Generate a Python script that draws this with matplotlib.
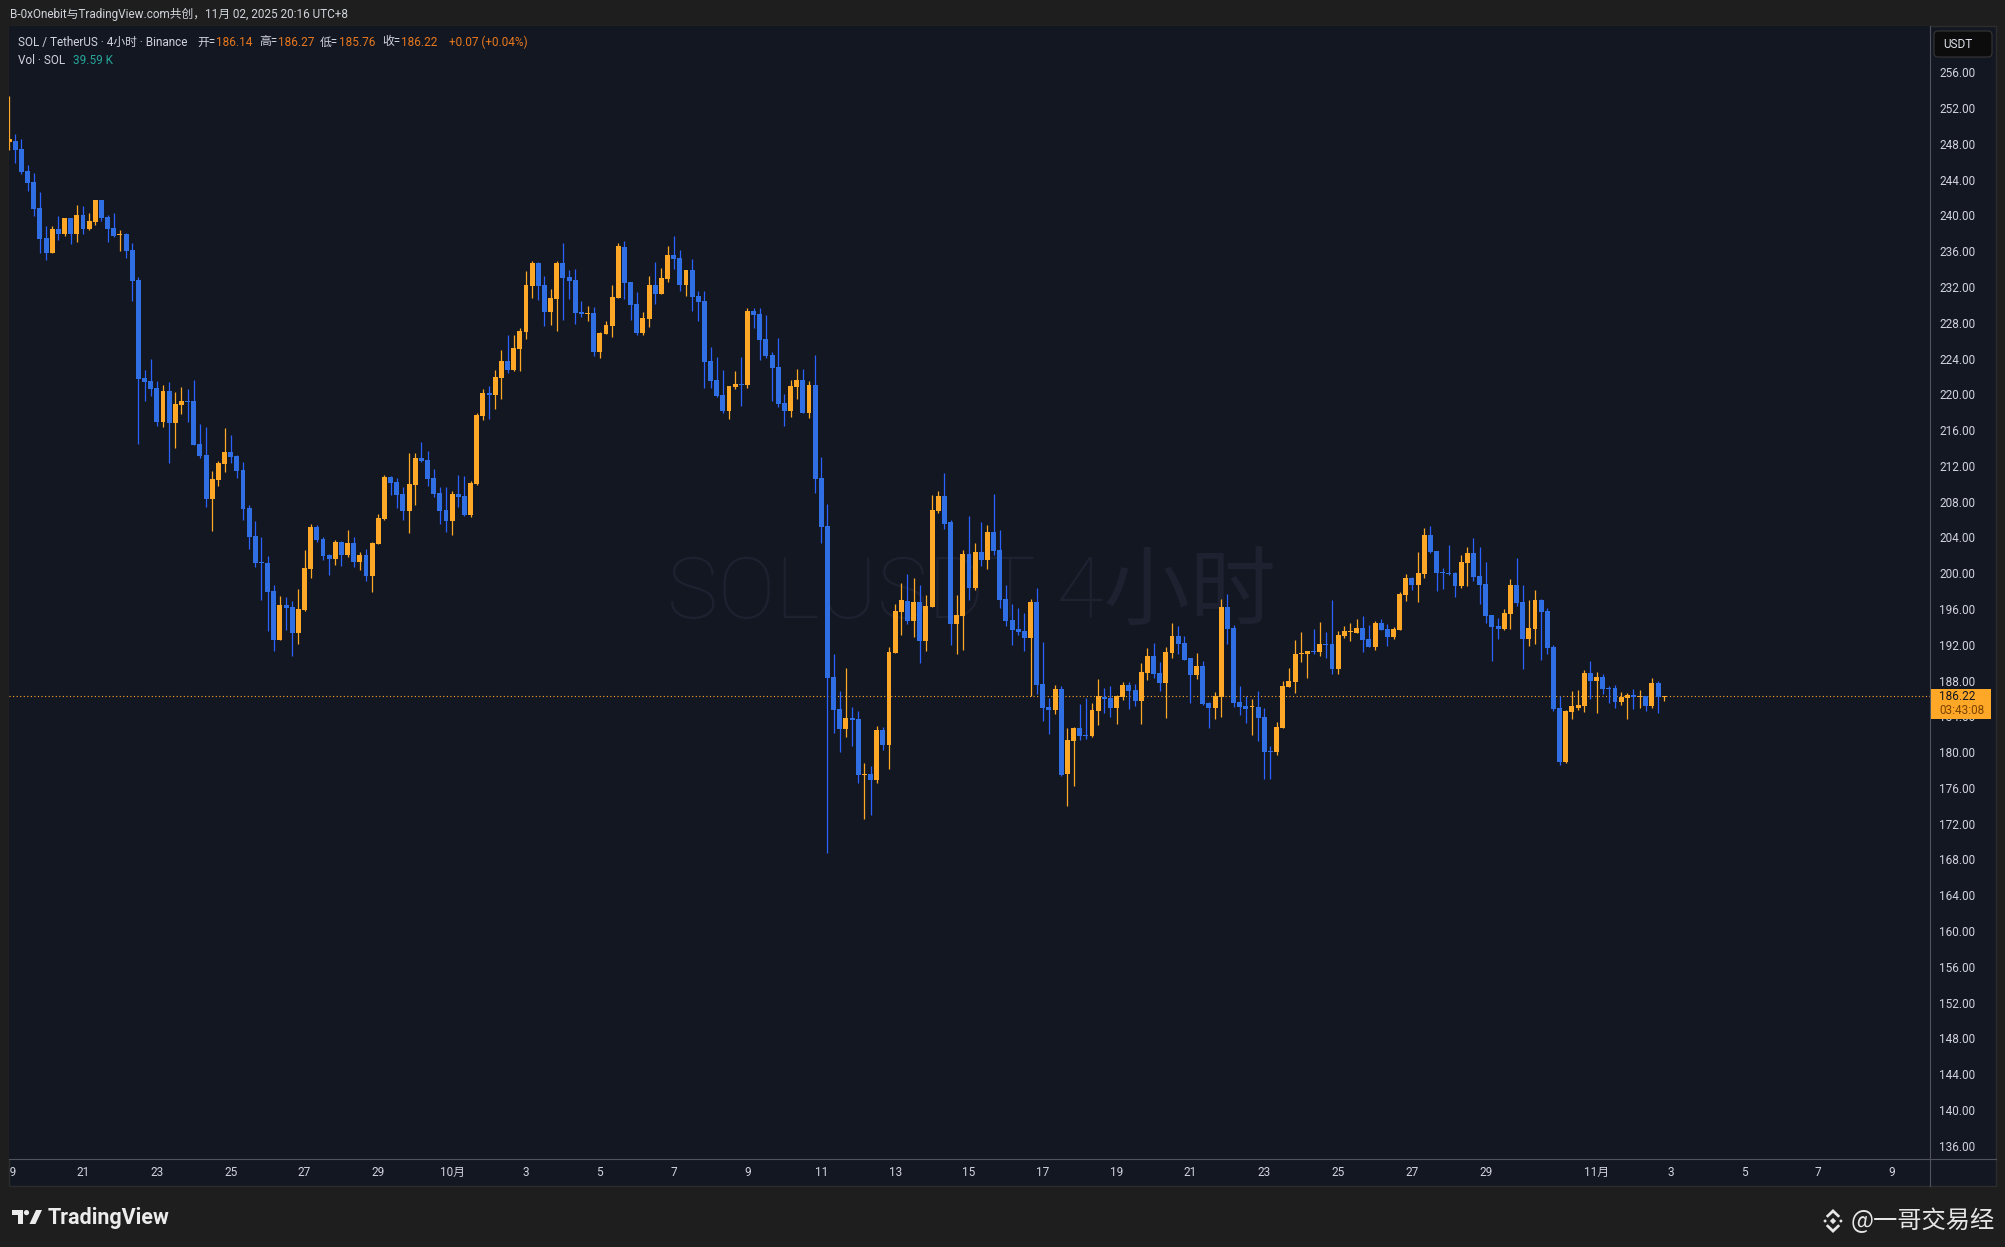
import numpy as np
import pandas as pd
import matplotlib
matplotlib.use("Agg")
import matplotlib.pyplot as plt
import matplotlib.transforms as mtransforms
from matplotlib.patches import Rectangle, FancyBboxPatch, Polygon, Circle
from matplotlib.lines import Line2D

plt.rcParams['font.family'] = ['Roboto', 'Noto Sans CJK SC', 'DejaVu Sans']

# ---------------- data ----------------
bar_start = '2025-09-19 00:00'   # 4h bars, UTC+8
opens = [248.2, 248.31, 247.43, 244.95, 243.72, 240.84, 237.49, 235.85, 238.49, 237.93,
         239.72, 237.93, 240.04, 238.49, 239.24, 241.72, 239.80, 238.60, 237.85, 237.93,
         236.13, 232.78, 221.83, 221.47, 220.72, 216.88, 220.36, 216.80, 218.80, 219.20,
         219.24, 214.45, 213.21, 208.30, 210.41, 212.21, 213.53, 213.09, 211.53, 207.30,
         204.15, 201.19, 201.15, 198.00, 192.53, 196.44, 196.20, 193.32, 195.88, 200.47,
         205.14, 203.83, 202.03, 201.59, 203.47, 202.03, 203.39, 201.23, 202.03, 199.67,
         203.27, 206.06, 210.73, 210.17, 208.86, 206.94, 209.86, 212.89, 212.65, 210.65,
         208.98, 207.06, 205.88, 208.86, 208.63, 206.51, 209.98, 217.62, 220.15, 219.93,
         221.83, 223.73, 222.72, 225.07, 226.97, 232.11, 234.68, 232.22, 229.20, 230.66,
         234.68, 233.12, 232.78, 229.20, 229.02, 229.09, 224.73, 226.75, 227.64, 230.77,
         236.47, 232.56, 230.10, 226.86, 228.42, 232.22, 231.22, 232.89, 235.58, 235.24,
         232.22, 233.90, 230.99, 230.43, 223.73, 221.60, 219.93, 218.14, 220.82, 221.16,
         221.04, 229.32, 228.98, 226.19, 224.40, 223.06, 219.03, 218.14, 220.82, 221.60,
         217.91, 221.04, 210.65, 205.28, 188.40, 184.82, 182.58, 183.81, 183.70, 177.44,
         177.55, 176.88, 182.47, 180.79, 191.08, 195.66, 196.89, 194.66, 196.78, 192.42,
         196.22, 206.95, 208.63, 205.72, 194.32, 195.21, 202.15, 198.35, 202.37, 201.47,
         204.61, 202.59, 197.11, 194.77, 193.76, 193.54, 192.75, 196.78, 187.61, 185.04,
         184.71, 187.05, 177.55, 181.24, 182.69, 181.91, 181.80, 184.59, 186.16, 186.05,
         184.93, 186.16, 187.50, 186.94, 185.71, 188.84, 190.74, 188.84, 187.72, 191.08,
         192.98, 192.20, 190.52, 188.62, 189.63, 185.50, 184.94, 186.17, 196.23, 193.88,
         185.61, 185.16, 185.02, 185.05, 183.93, 180.13, 180.02, 182.70, 187.28, 187.84,
         191.01, 190.97, 191.31, 191.20, 192.09, 192.09, 189.30, 192.99, 193.47, 193.32,
         193.88, 192.65, 191.76, 194.44, 193.77, 192.87, 193.66, 197.57, 199.47, 198.69,
         199.92, 204.28, 202.49, 200.14, 200.03, 200.03, 198.58, 201.15, 202.27, 199.69,
         198.80, 195.33, 194.11, 193.77, 195.45, 198.69, 196.79, 192.65, 193.77, 197.01,
         195.78, 191.76, 184.94, 178.90, 184.49, 184.94, 185.16, 188.85, 187.95, 188.40,
         187.17, 187.17, 185.61, 186.05, 186.39, 186.17, 186.28, 185.16, 187.73, 186.14]
highs = [253.3, 249.11, 248.55, 245.63, 244.75, 242.60, 238.80, 238.80, 239.92, 239.72,
         239.72, 241.16, 241.04, 240.28, 241.72, 241.72, 240.04, 240.28, 238.37, 238.05,
         236.93, 233.10, 222.71, 223.95, 221.47, 221.04, 221.36, 220.24, 220.80, 220.60,
         221.59, 216.68, 216.32, 211.41, 212.53, 216.24, 215.45, 213.21, 212.41, 207.62,
         205.82, 204.03, 201.91, 198.67, 197.44, 197.32, 196.88, 198.24, 202.59, 205.50,
         205.38, 204.03, 202.15, 203.71, 203.59, 204.83, 204.03, 202.35, 202.71, 203.47,
         206.62, 210.97, 210.85, 210.65, 209.62, 213.45, 213.45, 214.65, 213.65, 211.65,
         209.62, 209.62, 209.23, 210.98, 210.87, 210.31, 217.95, 220.60, 220.93, 222.72,
         224.96, 226.63, 226.63, 227.42, 233.79, 234.91, 234.79, 233.23, 231.78, 234.91,
         236.92, 233.90, 234.01, 230.43, 229.88, 229.76, 226.97, 228.20, 232.22, 236.92,
         237.14, 232.56, 231.44, 229.20, 233.23, 234.79, 234.12, 236.58, 237.70, 236.14,
         233.90, 235.13, 231.55, 231.55, 225.29, 224.17, 222.72, 220.93, 222.61, 224.17,
         229.65, 229.65, 229.65, 228.87, 224.73, 226.30, 220.04, 221.60, 222.83, 222.83,
         221.49, 224.40, 212.99, 207.74, 190.97, 186.83, 189.40, 185.04, 184.59, 178.78,
         178.45, 182.92, 182.81, 191.75, 196.56, 198.90, 199.91, 199.46, 198.68, 197.56,
         208.74, 209.19, 211.20, 205.95, 197.56, 202.59, 206.39, 203.38, 205.72, 205.39,
         208.85, 204.83, 198.68, 196.56, 196.11, 195.55, 197.11, 198.35, 192.31, 186.05,
         187.50, 187.39, 182.69, 182.81, 185.38, 186.05, 185.49, 188.17, 187.17, 187.39,
         186.38, 187.83, 187.83, 187.61, 189.96, 191.64, 192.20, 190.07, 191.75, 194.43,
         194.10, 192.98, 190.52, 191.08, 190.19, 185.61, 186.73, 197.12, 197.68, 194.22,
         187.40, 186.28, 185.94, 186.84, 184.94, 180.69, 183.37, 187.95, 189.41, 192.54,
         193.43, 191.31, 193.77, 194.55, 193.43, 197.01, 193.55, 194.10, 194.44, 194.89,
         195.22, 194.22, 194.66, 194.89, 194.33, 194.00, 197.90, 199.92, 199.58, 202.38,
         205.06, 205.28, 202.49, 200.59, 203.16, 200.14, 202.04, 202.94, 203.94, 202.94,
         201.26, 195.33, 195.00, 196.00, 199.36, 201.71, 198.69, 197.01, 198.13, 197.12,
         196.12, 191.98, 186.28, 184.71, 186.84, 186.95, 189.19, 190.19, 188.96, 188.74,
         187.40, 187.51, 186.73, 186.61, 187.06, 186.95, 186.28, 188.29, 187.95, 186.27]
lows = [247.3, 245.91, 244.63, 242.72, 239.92, 235.81, 235.05, 235.85, 237.25, 237.69,
        236.81, 237.01, 237.93, 238.37, 238.92, 239.36, 237.01, 237.57, 236.01, 235.25,
        230.42, 214.45, 219.24, 219.80, 216.44, 216.32, 212.33, 214.01, 217.80, 216.88,
        214.33, 212.89, 207.38, 204.70, 209.74, 211.29, 212.33, 210.65, 205.94, 202.71,
        200.67, 196.99, 193.52, 191.29, 192.53, 193.64, 190.73, 192.09, 195.76, 199.47,
        203.47, 201.47, 199.79, 200.91, 200.79, 201.79, 200.67, 200.35, 199.11, 197.88,
        203.27, 205.94, 208.74, 207.30, 205.94, 204.50, 207.62, 212.41, 209.74, 208.50,
        205.50, 204.59, 204.27, 207.44, 206.40, 206.29, 209.87, 217.13, 217.24, 218.36,
        219.48, 222.39, 222.61, 222.61, 226.19, 230.77, 230.55, 227.64, 227.75, 227.08,
        228.31, 230.66, 227.86, 228.65, 228.20, 224.29, 224.06, 226.75, 226.41, 230.77,
        230.66, 228.31, 226.63, 226.63, 227.53, 230.10, 231.22, 232.56, 234.01, 231.55,
        230.99, 229.32, 228.20, 220.71, 220.71, 219.70, 217.91, 217.24, 220.60, 218.70,
        220.71, 227.42, 223.84, 224.06, 219.25, 218.58, 216.46, 217.47, 219.48, 217.91,
        217.35, 208.97, 203.38, 168.72, 182.14, 180.01, 181.69, 180.68, 176.55, 172.52,
        172.97, 176.55, 180.23, 178.11, 191.08, 193.09, 194.32, 192.87, 189.96, 191.30,
        196.22, 206.73, 204.94, 191.97, 190.97, 191.41, 197.00, 198.12, 200.80, 200.47,
        202.03, 196.11, 194.10, 191.97, 193.09, 191.30, 186.27, 186.49, 183.48, 182.02,
        184.26, 177.33, 173.97, 176.21, 181.35, 181.46, 181.69, 183.03, 184.37, 183.92,
        183.14, 185.82, 184.82, 185.15, 183.14, 188.06, 188.29, 186.83, 183.81, 190.52,
        190.97, 190.30, 185.49, 188.17, 185.27, 182.70, 183.71, 183.93, 192.09, 185.05,
        184.15, 183.26, 181.92, 181.25, 177.00, 177.00, 179.68, 182.70, 187.28, 186.61,
        190.08, 188.29, 190.97, 190.75, 190.53, 188.74, 188.74, 192.76, 192.43, 193.32,
        191.20, 191.76, 191.42, 193.66, 191.87, 192.65, 193.66, 196.90, 198.13, 196.79,
        199.47, 202.27, 198.02, 198.24, 199.81, 197.35, 198.35, 198.58, 199.13, 196.56,
        194.44, 190.19, 192.65, 193.66, 193.77, 196.34, 189.30, 191.87, 192.09, 190.30,
        190.97, 184.60, 178.56, 178.79, 183.71, 184.71, 184.49, 185.94, 184.38, 186.50,
        185.50, 184.94, 185.27, 183.71, 184.83, 184.94, 184.60, 184.94, 184.38, 185.76]
closes = [248.5, 247.31, 244.83, 243.68, 240.76, 237.41, 235.85, 238.49, 237.93, 239.72,
          237.93, 240.04, 238.49, 239.36, 241.72, 239.72, 238.49, 237.69, 237.95, 236.01,
          232.66, 221.71, 221.36, 220.60, 216.88, 220.36, 216.80, 218.92, 219.24, 219.12,
          214.33, 213.09, 208.30, 210.53, 212.33, 213.53, 212.97, 211.41, 207.18, 204.03,
          201.15, 201.11, 197.88, 192.53, 196.44, 196.12, 193.32, 196.00, 200.59, 205.14,
          203.71, 201.91, 201.59, 203.47, 202.03, 203.39, 201.23, 202.03, 199.67, 203.39,
          206.18, 210.73, 210.09, 208.74, 206.94, 209.98, 212.89, 212.53, 210.53, 208.86,
          206.94, 205.82, 208.86, 208.56, 206.51, 210.09, 217.69, 220.15, 219.93, 221.94,
          223.73, 222.72, 225.18, 227.08, 232.22, 234.68, 232.11, 229.20, 230.77, 234.68,
          233.01, 232.67, 229.09, 228.98, 229.10, 224.73, 226.86, 227.75, 230.88, 236.58,
          232.45, 229.99, 226.86, 228.53, 232.22, 231.22, 233.01, 235.58, 235.13, 232.22,
          233.90, 230.88, 230.32, 223.62, 221.49, 219.81, 218.14, 220.93, 221.16, 221.08,
          229.32, 228.87, 226.07, 224.29, 222.94, 218.92, 218.14, 220.93, 221.60, 217.91,
          221.04, 210.53, 205.17, 188.29, 184.71, 182.58, 183.81, 183.59, 177.44, 177.55,
          176.88, 182.47, 180.79, 191.19, 195.77, 197.00, 194.66, 196.78, 192.42, 196.33,
          207.06, 208.63, 205.50, 194.32, 195.33, 202.15, 198.35, 202.37, 201.47, 204.61,
          202.48, 197.00, 194.66, 193.65, 193.43, 192.75, 196.78, 187.50, 184.93, 184.71,
          187.05, 177.44, 181.35, 182.69, 181.80, 181.80, 184.71, 186.27, 185.93, 184.93,
          186.27, 187.50, 186.83, 185.71, 188.95, 190.74, 188.73, 187.72, 191.19, 192.98,
          192.09, 190.30, 188.62, 189.63, 185.38, 184.94, 186.28, 196.23, 193.77, 185.50,
          185.05, 184.83, 185.05, 183.82, 180.02, 180.05, 182.81, 187.40, 187.95, 190.97,
          191.08, 191.31, 191.23, 192.09, 192.02, 189.30, 193.10, 193.55, 193.55, 193.88,
          192.54, 191.76, 194.44, 193.66, 192.87, 193.77, 197.68, 199.47, 198.69, 200.03,
          204.28, 202.38, 200.03, 200.07, 199.96, 198.58, 201.26, 202.27, 199.58, 198.69,
          195.22, 194.00, 193.77, 195.56, 198.69, 196.67, 192.65, 193.88, 197.01, 195.67,
          191.64, 184.83, 178.90, 184.60, 185.16, 185.27, 188.85, 187.95, 188.40, 187.06,
          187.10, 185.61, 186.17, 186.39, 186.17, 186.28, 185.16, 187.73, 186.17, 186.22]

tick_dates = ['2025-09-19', '2025-09-21', '2025-09-23', '2025-09-25', '2025-09-27', '2025-09-29',
              '2025-10-01', '2025-10-03', '2025-10-05', '2025-10-07', '2025-10-09', '2025-10-11',
              '2025-10-13', '2025-10-15', '2025-10-17', '2025-10-19', '2025-10-21', '2025-10-23',
              '2025-10-25', '2025-10-27', '2025-10-29', '2025-11-01', '2025-11-03', '2025-11-05',
              '2025-11-07', '2025-11-09']
tick_labels = ['19', '21', '23', '25', '27', '29', '10月', '3', '5', '7', '9', '11', '13', '15',
               '17', '19', '21', '23', '25', '27', '29', '11月', '3', '5', '7', '9']
price_ticks = list(range(136, 257, 4))

last_price = 186.22
countdown = '03:43:08'

# ---------------- styles ----------------
W, H = 2006, 1247
OUTER = '#1e1e1e'
PANE = '#131722'
UP = '#FFA726'
DOWN_BODY = '#2F6FE3'
DOWN_WICK = '#2962FF'
TXT = '#d1d4dc'
SEP = '#50535e'

fig = plt.figure(figsize=(W / 100, H / 100), dpi=100, facecolor=OUTER)
PX = mtransforms.Affine2D().scale(1, -1).translate(0, H)  # pixel coords, origin top-left


def fr(x0, y0, x1, y1):
    return [x0 / W, 1 - y1 / H, (x1 - x0) / W, (y1 - y0) / H]


# panel background
fig.add_artist(Rectangle((9, 26), 1987, 1160, transform=PX, facecolor=PANE,
                         edgecolor='#2c2c2c', lw=1, zorder=-5))

# ---------------- price pane ----------------
ax = fig.add_axes(fr(9, 26, 1930, 1159), facecolor=PANE)
t0 = pd.Timestamp(bar_start)
bar_times = pd.date_range(t0, periods=len(opens), freq='4h')
x = np.asarray((bar_times - t0) / pd.Timedelta('4h'), dtype=float)

o = np.array(opens); h = np.array(highs); l = np.array(lows); c = np.array(closes)
up = c >= o
body_col = np.where(up, UP, DOWN_BODY)
wick_col = np.where(up, UP, DOWN_WICK)
ax.vlines(x, l, h, colors=wick_col, linewidth=0.9, zorder=3)
body_bottom = np.minimum(o, c)
body_h = np.maximum(np.abs(c - o), 0.12)
ax.bar(x, body_h, bottom=body_bottom, width=0.8, color=body_col, linewidth=0, zorder=4)

ax.axhline(last_price, color=UP, lw=0.8, linestyle=(0, (1, 2.2)), zorder=2)

ax.set_xlim(-0.03, 312.2)
ax.set_ylim(134.51, 261.18)
for s in ax.spines.values():
    s.set_visible(False)
ax.set_xticks([])
ax.yaxis.tick_right()
ax.set_yticks(price_ticks)
ax.set_yticklabels([f'{p:.2f}' for p in price_ticks])
ax.tick_params(axis='y', length=0, pad=6.5, labelsize=8.5, labelcolor=TXT)

# watermark (thin latin + thin CJK)
WM = '#1d2130'
ax.text(971, 618, 'SOLUSDT 4小时', transform=PX, ha='center', va='baseline',
        fontsize=62, color=WM, fontweight='light', zorder=0,
        family=['Roboto', 'Noto Sans CJK SC', 'DejaVu Sans'])

# ---------------- date axis ----------------
axd = fig.add_axes(fr(9, 1159, 1930, 1186), facecolor=PANE)
axd.set_xlim(ax.get_xlim())
axd.set_ylim(0, 1)
axd.axis('off')
tick_x = np.asarray((pd.to_datetime(tick_dates) - t0) / pd.Timedelta('4h'), dtype=float)
for tx, tl in zip(tick_x, tick_labels):
    axd.text(tx, 0.5, tl, ha='center', va='center', fontsize=8.5, color=TXT, clip_on=True)

# separators
fig.add_artist(Line2D([9, 1996], [1159, 1159], transform=PX, color=SEP, lw=0.8, zorder=3))
fig.add_artist(Line2D([1930, 1930], [26, 1186], transform=PX, color=SEP, lw=0.8, zorder=3))

# USDT box
fig.add_artist(FancyBboxPatch((1934, 31), 58, 26, boxstyle='round,pad=0,rounding_size=4',
                              transform=PX, facecolor='#0c0c0c', edgecolor='#363636', lw=0.8, zorder=4))
fig.text(1943, 44, 'USDT', transform=PX, ha='left', va='center', fontsize=8.5, color='#e0e3eb', zorder=5)

# last price box
fig.add_artist(Rectangle((1931, 689), 60, 30, transform=PX, facecolor=UP, edgecolor='none', zorder=4))
fig.text(1939, 697, f'{last_price:.2f}', transform=PX, ha='left', va='center', fontsize=8.5,
         color='#131722', zorder=5)
fig.text(1939, 711, countdown, transform=PX, ha='left', va='center', fontsize=8.5,
         color='#7a4300', zorder=5)

# ---------------- header texts ----------------
fig.text(10, 14, 'B-0xOnebit与TradingView.com共创，11月 02, 2025 20:16 UTC+8', transform=PX,
         ha='left', va='center', fontsize=8.5, color=TXT)
VAL = '#e8781e'
fig.text(18, 42, 'SOL / TetherUS · 4小时 · Binance', transform=PX, ha='left', va='center',
         fontsize=8.5, color=TXT, zorder=6)
hdr_vals = [(216, '开=', '186.14'), (278, '高=', '186.27'), (339, '低=', '185.76'),
            (401, '收=', '186.22')]
for vx, lab, val in hdr_vals:
    fig.text(vx - 1, 42, lab, transform=PX, ha='right', va='center', fontsize=8.5, color=TXT, zorder=6)
    fig.text(vx, 42, val, transform=PX, ha='left', va='center', fontsize=8.5, color=VAL, zorder=6)
fig.text(449, 42, '+0.07 (+0.04%)', transform=PX, ha='left', va='center', fontsize=8.5,
         color=VAL, zorder=6)
fig.text(18, 60, 'Vol · SOL', transform=PX, ha='left', va='center', fontsize=8.5, color=TXT, zorder=6)
fig.text(73, 60, '39.59 K', transform=PX, ha='left', va='center', fontsize=8.5, color='#26a69a', zorder=6)

# ---------------- TradingView logo ----------------
LOGO = '#ececec'
fig.add_artist(Polygon([(11.5, 1210), (23, 1210), (23, 1224), (17.5, 1224), (17.5, 1215), (11.5, 1215)],
                       closed=True, transform=PX, facecolor=LOGO, edgecolor='none'))
fig.add_artist(Circle((26.5, 1212.6), 2.6, transform=PX, facecolor=LOGO, edgecolor='none'))
fig.add_artist(Polygon([(29.5, 1224), (35.5, 1224), (42, 1210), (36, 1210)], closed=True,
                       transform=PX, facecolor=LOGO, edgecolor='none'))
fig.text(48, 1224, 'TradingView', transform=PX, ha='left', va='baseline', fontsize=15.5,
         fontweight='bold', color=LOGO)

# ---------------- Binance watermark ----------------
cx, cy, r = 1833, 1221, 12


def bp(pts):
    return [(cx + r * u, cy - r * v) for u, v in pts]


BN = '#e6e6e6'
for poly in [
    [(0, 0.26), (0.26, 0), (0, -0.26), (-0.26, 0)],
    [(-0.66, 0.15), (-0.51, 0), (-0.66, -0.15), (-0.81, 0)],
    [(0.66, 0.15), (0.81, 0), (0.66, -0.15), (0.51, 0)],
    [(-0.6, 0.42), (0, 1.0), (0.6, 0.42), (0.44, 0.27), (0, 0.68), (-0.44, 0.27)],
    [(-0.6, -0.42), (0, -1.0), (0.6, -0.42), (0.44, -0.27), (0, -0.68), (-0.44, -0.27)],
]:
    fig.add_artist(Polygon(bp(poly), closed=True, transform=PX, facecolor=BN, edgecolor='none'))
fig.text(1851, 1221, '@一哥交易经', transform=PX, ha='left', va='center', fontsize=17.5,
         color=BN, family=['Noto Sans CJK SC', 'DejaVu Sans'])

fig.savefig('out.png', dpi=100, facecolor=OUTER)
